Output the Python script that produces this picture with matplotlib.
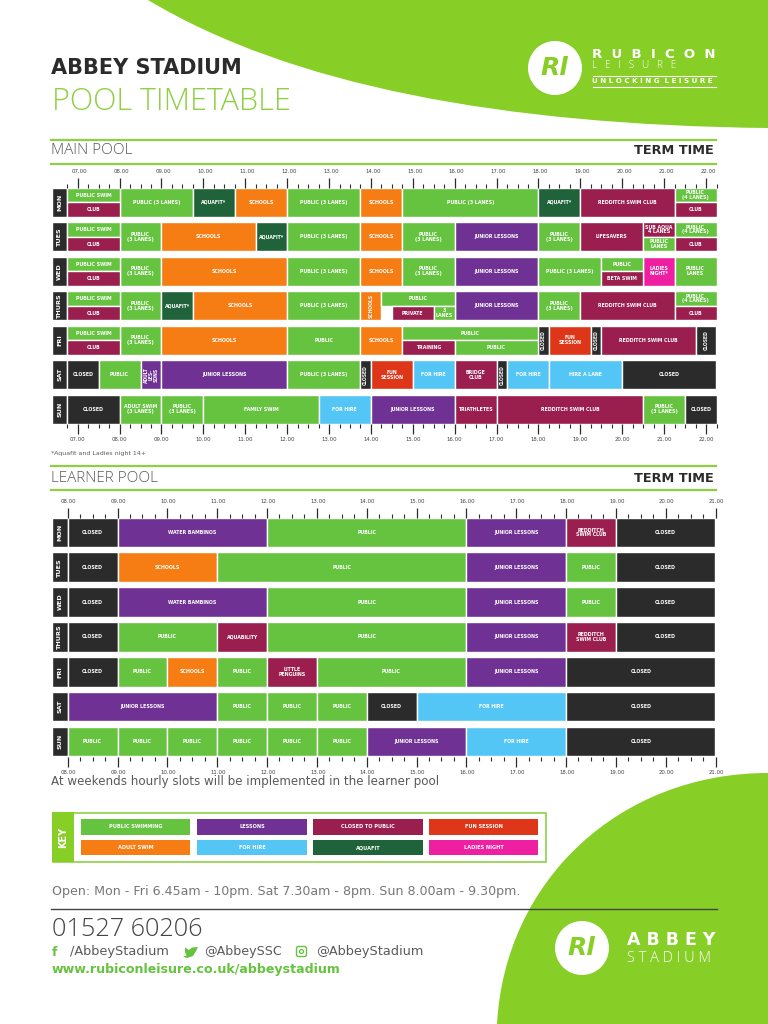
import matplotlib
matplotlib.use('Agg')
import matplotlib.pyplot as plt
from matplotlib.patches import Circle, PathPatch, Rectangle, FancyBboxPatch, Polygon
from matplotlib.path import Path
from matplotlib.ticker import FixedLocator
from matplotlib.transforms import ScaledTranslation

LIGHT = ['Open Sans', 'DejaVu Sans']
plt.rcParams['font.family'] = ['DejaVu Sans']

LIME = '#87CE26'
LINE = '#8FCF45'
DARK = '#2B2B2B'
GREY = '#5A5A5A'

colours = {
    'public': '#66C340',
    'schools': '#F57D14',
    'lessons': '#6F3193',
    'club': '#9A1F4E',
    'closed': '#2B2B2B',
    'aquafit': '#20633A',
    'hire': '#54C6F6',
    'fun': '#DE3618',
    'ladies': '#EE1FA0',
}

days = ['MON', 'TUES', 'WED', 'THURS', 'FRI', 'SAT', 'SUN']

main_hours = list(range(7, 23))
main_open, main_end = 6.75, 22.25

P3 = 'PUBLIC (3 LANES)'
P3W = 'PUBLIC\n(3 LANES)'
P4W = 'PUBLIC\n(4 LANES)'
RSC = 'REDDITCH SWIM CLUB'
JL = 'JUNIOR LESSONS'

main_mon = [(8, 9.75, P3, 'public'), (9.75, 10.75, 'AQUAFIT*', 'aquafit'), (10.75, 12, 'SCHOOLS', 'schools'),
            (12, 13.75, P3, 'public'), (13.75, 14.75, 'SCHOOLS', 'schools'), (14.75, 18, P3, 'public'),
            (18, 19, 'AQUAFIT*', 'aquafit'), (19, 21.25, RSC, 'club')]
main_tue = [(8, 9, P3W, 'public'), (9, 11.25, 'SCHOOLS', 'schools'), (11.25, 12, 'AQUAFIT*', 'aquafit'),
            (12, 13.75, P3, 'public'), (13.75, 14.75, 'SCHOOLS', 'schools'), (14.75, 16, P3W, 'public'),
            (16, 18, JL, 'lessons'), (18, 19, P3W, 'public'), (19, 20.5, 'LIFESAVERS', 'club')]
main_wed = [(8, 9, P3W, 'public'), (9, 12, 'SCHOOLS', 'schools'), (12, 13.75, P3, 'public'),
            (13.75, 14.75, 'SCHOOLS', 'schools'), (14.75, 16, P3W, 'public'), (16, 18, JL, 'lessons'),
            (18, 19.5, P3, 'public'), (20.5, 21.25, 'LADIES\nNIGHT*', 'ladies'), (21.25, 22.25, 'PUBLIC\nLANES', 'public')]
main_thu = [(8, 9, P3W, 'public'), (9, 9.75, 'AQUAFIT*', 'aquafit'), (9.75, 12, 'SCHOOLS', 'schools'),
            (12, 13.75, P3, 'public'), (13.75, 14.25, 'SCHOOLS', 'schools'), (16, 18, JL, 'lessons'),
            (18, 19, P3W, 'public'), (19, 21.25, RSC, 'club')]
main_fri = [(8, 9, P3W, 'public'), (9, 12, 'SCHOOLS', 'schools'), (12, 13.75, 'PUBLIC', 'public'),
            (13.75, 14.75, 'SCHOOLS', 'schools'), (18, 18.25, 'CLOSED', 'closed'), (18.25, 19.25, 'FUN\nSESSION', 'fun'),
            (19.25, 19.5, 'CLOSED', 'closed'), (19.5, 21.75, RSC, 'club'), (21.75, 22.25, 'CLOSED', 'closed')]
main_sat = [(6.75, 7.5, 'CLOSED', 'closed'), (7.5, 8.5, 'PUBLIC', 'public'), (8.5, 9, 'ADULT\nLES-\nSONS', 'lessons'),
            (9, 12, JL, 'lessons'), (12, 13.75, P3, 'public'), (13.75, 14, 'CLOSED', 'closed'),
            (14, 15, 'FUN\nSESSION', 'fun'), (15, 16, 'FOR HIRE', 'hire'), (16, 17, 'BRIDGE\nCLUB', 'club'),
            (17, 17.25, 'CLOSED', 'closed'), (17.25, 18.25, 'FOR HIRE', 'hire'), (18.25, 20, 'HIRE A LANE', 'hire'),
            (20, 22.25, 'CLOSED', 'closed')]
main_sun = [(6.75, 8, 'CLOSED', 'closed'), (8, 9, 'ADULT SWIM\n(3 LANES)', 'public'), (9, 10, P3W, 'public'),
            (10, 12.75, 'FAMILY SWIM', 'public'), (12.75, 14, 'FOR HIRE', 'hire'), (14, 16, JL, 'lessons'),
            (16, 17, 'TRIATHLETES', 'club'), (17, 20.5, RSC, 'club'), (20.5, 21.5, P3W, 'public'),
            (21.5, 22.25, 'CLOSED', 'closed')]

# sessions sharing a row with another one, upper and lower lane
early_top = (6.75, 8, 'PUBLIC SWIM', 'public')
early_bot = (6.75, 8, 'CLUB', 'club')
late_top = (21.25, 22.25, P4W, 'public')
late_bot = (21.25, 22.25, 'CLUB', 'club')

main_top = [
    [early_top, late_top],
    [early_top, (20.5, 21.25, 'SUB AQUA\n4 LANES', 'club'), late_top],
    [early_top, (19.5, 20.5, 'PUBLIC', 'public')],
    [early_top, (14.25, 16, 'PUBLIC', 'public'), late_top],
    [early_top, (14.75, 18, 'PUBLIC', 'public')],
    [],
    [],
]
main_bot = [
    [early_bot, late_bot],
    [early_bot, (20.5, 21.25, 'PUBLIC\nLANES', 'public'), late_bot],
    [early_bot, (19.5, 20.5, 'BETA SWIM', 'club')],
    [early_bot, (14.5, 15.5, 'PRIVATE', 'club'), (15.5, 16, '3\nLANES', 'public'), late_bot],
    [early_bot, (14.75, 16, 'TRAINING', 'club'), (16, 18, 'PUBLIC', 'public')],
    [],
    [],
]
main_full = [main_mon, main_tue, main_wed, main_thu, main_fri, main_sat, main_sun]

learner_hours = list(range(8, 22))
learner_open, learner_end = 8, 21

learner_mon = [(8, 9, 'CLOSED', 'closed'), (9, 12, 'WATER BAMBINOS', 'lessons'), (12, 16, 'PUBLIC', 'public'),
               (16, 18, JL, 'lessons'), (18, 19, 'REDDITCH\nSWIM CLUB', 'club'), (19, 21, 'CLOSED', 'closed')]
learner_tue = [(8, 9, 'CLOSED', 'closed'), (9, 11, 'SCHOOLS', 'schools'), (11, 16, 'PUBLIC', 'public'),
               (16, 18, JL, 'lessons'), (18, 19, 'PUBLIC', 'public'), (19, 21, 'CLOSED', 'closed')]
learner_wed = [(8, 9, 'CLOSED', 'closed'), (9, 12, 'WATER BAMBINOS', 'lessons'), (12, 16, 'PUBLIC', 'public'),
               (16, 18, JL, 'lessons'), (18, 19, 'PUBLIC', 'public'), (19, 21, 'CLOSED', 'closed')]
learner_thu = [(8, 9, 'CLOSED', 'closed'), (9, 11, 'PUBLIC', 'public'), (11, 12, 'AQUABILITY', 'club'),
               (12, 16, 'PUBLIC', 'public'), (16, 18, JL, 'lessons'), (18, 19, 'REDDITCH\nSWIM CLUB', 'club'),
               (19, 21, 'CLOSED', 'closed')]
learner_fri = [(8, 9, 'CLOSED', 'closed'), (9, 10, 'PUBLIC', 'public'), (10, 11, 'SCHOOLS', 'schools'),
               (11, 12, 'PUBLIC', 'public'), (12, 13, 'LITTLE\nPENGUINS', 'club'), (13, 16, 'PUBLIC', 'public'),
               (16, 18, JL, 'lessons'), (18, 21, 'CLOSED', 'closed')]
learner_sat = [(8, 11, JL, 'lessons'), (11, 12, 'PUBLIC', 'public'), (12, 13, 'PUBLIC', 'public'),
               (13, 14, 'PUBLIC', 'public'), (14, 15, 'CLOSED', 'closed'), (15, 18, 'FOR HIRE', 'hire'),
               (18, 21, 'CLOSED', 'closed')]
learner_sun = [(8, 9, 'PUBLIC', 'public'), (9, 10, 'PUBLIC', 'public'), (10, 11, 'PUBLIC', 'public'),
               (11, 12, 'PUBLIC', 'public'), (12, 13, 'PUBLIC', 'public'), (13, 14, 'PUBLIC', 'public'),
               (14, 16, JL, 'lessons'), (16, 18, 'FOR HIRE', 'hire'), (18, 21, 'CLOSED', 'closed')]
learner_full = [learner_mon, learner_tue, learner_wed, learner_thu, learner_fri, learner_sat, learner_sun]

key_labels = ['PUBLIC SWIMMING', 'LESSONS', 'CLOSED TO PUBLIC', 'FUN SESSION',
              'ADULT SWIM', 'FOR HIRE', 'AQUAFIT', 'LADIES NIGHT']
key_kinds = ['public', 'lessons', 'club', 'fun', 'schools', 'hire', 'aquafit', 'ladies']

W, H = 768, 1024
fig = plt.figure(figsize=(W / 100, H / 100), dpi=100, facecolor='white')


def box(l, t, r, b):
    return [l / W, 1 - b / H, (r - l) / W, (b - t) / H]


page = fig.add_axes([0, 0, 1, 1])
page.set_xlim(0, W)
page.set_ylim(H, 0)
page.axis('off')


def say(x, y, s, size, color=DARK, weight='normal', ha='left', family='DejaVu Sans', **kw):
    return page.text(x, y, s, fontsize=size, color=color, fontweight=weight, ha=ha, va='center',
                     family=family, **kw)


# green background shapes
swoosh = Path([(148, 0), (290, 85), (500, 125), (768, 128), (768, 0), (148, 0)],
              [Path.MOVETO, Path.CURVE4, Path.CURVE4, Path.CURVE4, Path.LINETO, Path.CLOSEPOLY])
page.add_patch(PathPatch(swoosh, fc=LIME, ec='none'))
corner = Path([(497, 1024), (505, 880), (620, 773), (768, 773), (768, 1024), (497, 1024)],
              [Path.MOVETO, Path.CURVE4, Path.CURVE4, Path.CURVE4, Path.LINETO, Path.CLOSEPOLY])
page.add_patch(PathPatch(corner, fc=LIME, ec='none'))


def roundel(x, y):
    page.add_patch(Circle((x, y), 27, fc='white', ec='none'))
    page.text(x - 1, y, 'Rl', fontsize=18, color=LIME, fontweight='bold', style='italic',
              ha='center', va='center', family='DejaVu Sans')


# header
say(51, 68, 'ABBEY STADIUM', 15, DARK, 'bold')
say(52, 102, 'POOL TIMETABLE', 22, LINE, 'light', family=LIGHT)
roundel(555, 68)
say(592, 54, 'R  U  B  I  C  O  N', 9.5, 'white', 'bold')
say(592, 66, 'L   E   I   S   U   R   E', 7.2, 'white', 'light', family=LIGHT)
say(592, 81, 'U N L O C K I N G  L E I S U R E', 5.1, 'white', 'bold')
page.plot([593, 716], [76, 76], color='white', lw=0.8)
page.plot([593, 716], [86.5, 86.5], color='white', lw=0.8)

# section headings
page.plot([51, 716], [140, 140], color=LINE, lw=1.6)
page.plot([51, 716], [164, 164], color=LINE, lw=1.6)
say(51, 150, 'MAIN POOL', 11, GREY, 'light', family=LIGHT)
say(714, 151, 'TERM TIME', 9.3, DARK, 'bold', ha='right')
say(51, 454, '*Aquafit and Ladies night 14+', 4.5, GREY)
page.plot([51, 716], [466, 466], color=LINE, lw=1.6)
page.plot([51, 716], [490, 490], color=LINE, lw=1.6)
say(51, 478, 'LEARNER POOL', 11, GREY, 'light', family=LIGHT)
say(714, 478, 'TERM TIME', 9.3, DARK, 'bold', ha='right')
say(51, 781, 'At weekends hourly slots will be implemented in the learner pool', 8.55, GREY)


def draw_sessions(ax, row, sessions, mid, height, size):
    for start, end, label, kind in sessions:
        ax.barh(row + mid, end - start, height=height, left=start, color=colours[kind],
                edgecolor='white', linewidth=1.0)
        rot = 90 if height > 0.6 and end - start <= 0.5 else 0
        ax.text((start + end) / 2, row + mid, label, color='white', fontsize=size if rot == 0 else size - 0.2,
                fontweight='bold', ha='center', va='center', rotation=rot, linespacing=0.95)


def timetable(rect, xlim, ylim, hours, first, last, full, top=None, bot=None, top_shift=0, bot_shift=0):
    ax = fig.add_axes(box(*rect))
    ax.set_xlim(*xlim)
    ax.set_ylim(*ylim)
    ax.patch.set_alpha(0)
    for s in ax.spines.values():
        s.set_visible(False)
    ax.set_yticks([])

    for row, day in enumerate(days):
        ax.barh(row, first - xlim[0], height=0.85, left=xlim[0], color=DARK, edgecolor='white', linewidth=1.0)
        ax.text((xlim[0] + first) / 2, row, day, color='white', fontsize=4.6, fontweight='bold',
                rotation=90, ha='center', va='center')
        draw_sessions(ax, row, full[row], 0, 0.85, 3.45)
        if top:
            draw_sessions(ax, row, top[row], -0.21, 0.43, 3.45)
            draw_sessions(ax, row, bot[row], 0.21, 0.43, 3.45)

    quarters = [first + 0.25 * i for i in range(int((last - first) * 4) + 1)]
    ax.xaxis.set_major_locator(FixedLocator(hours))
    ax.xaxis.set_minor_locator(FixedLocator([q for q in quarters if q not in hours]))
    ax.set_xticklabels(['%02d.00' % h for h in hours])
    ax.tick_params(axis='x', which='major', top=True, bottom=True, labeltop=True, labelbottom=True,
                   length=7.2, width=0.9, color=DARK, labelsize=3.9, labelcolor='#444444', pad=2.4)
    ax.tick_params(axis='x', which='minor', top=True, bottom=True, length=3.2, width=0.8, color=DARK)
    for tick in ax.xaxis.get_major_ticks():
        tick.label2.set_transform(tick.label2.get_transform() + ScaledTranslation(top_shift / 100, 0, fig.dpi_scale_trans))
        tick.label1.set_transform(tick.label1.get_transform() + ScaledTranslation(bot_shift / 100, 0, fig.dpi_scale_trans))
    return ax


timetable((52, 187.5, 716.5, 424), (6.386, 22.25), (6.426, -0.429), main_hours, main_open, main_end,
          main_full, main_top, main_bot, top_shift=2)
timetable((52, 517.5, 715.5, 757), (7.685, 21.0), (6.45, -0.43), learner_hours, learner_open, learner_end,
          learner_full, top_shift=1, bot_shift=1)

# key
page.add_patch(Rectangle((52.5, 812.5), 493, 49.5, fc='white', ec=LINE, lw=1.2))
page.add_patch(Rectangle((52, 812), 22, 50, fc=LIME, ec='none'))
say(63, 837, 'KEY', 7, 'white', 'bold', ha='center', rotation=90)
key_x = [(81, 190), (197, 307), (313, 423), (429, 538)]
key_y = [(819, 835), (840, 855)]
for i, (label, kind) in enumerate(zip(key_labels, key_kinds)):
    x0, x1 = key_x[i % 4]
    y0, y1 = key_y[i // 4]
    page.add_patch(Rectangle((x0, y0), x1 - x0, y1 - y0, fc=colours[kind], ec='none'))
    say((x0 + x1) / 2, (y0 + y1) / 2, label, 3.6, 'white', 'bold', ha='center')

# footer
say(52, 892, 'Open: Mon - Fri 6.45am - 10pm. Sat 7.30am - 8pm. Sun 8.00am - 9.30pm.', 9.1, '#777777')
page.plot([51, 717], [909, 909], color='#444444', lw=1.0)
say(52, 930, '01527 60206', 18.2, '#444444', 'light', family=LIGHT)
say(52, 952, 'f', 9, '#66C340', 'bold')
say(70, 952, '/AbbeyStadium', 9.3, GREY)
page.add_patch(Polygon([(185, 947.5), (189, 950), (192, 947.5), (198, 947), (196, 951), (193, 956), (187, 958), (183, 956.5),
                        (186.5, 955.5), (185, 952)], fc='#66C340', ec='none'))
say(204, 952, '@AbbeySSC', 9.1, GREY)
page.add_patch(FancyBboxPatch((298, 948), 7, 7, boxstyle='round,pad=1.5,rounding_size=2', fc='none', ec='#66C340', lw=1))
page.add_patch(Circle((301.5, 951.5), 2, fc='none', ec='#66C340', lw=0.9))
say(316, 952, '@AbbeyStadium', 9.3, GREY)
say(52, 970, 'www.rubiconleisure.co.uk/abbeystadium', 9.05, '#66C340', 'bold')
roundel(582, 948)
say(627, 940, 'A B B E Y', 12.5, 'white', 'bold')
say(627, 959, 'S T A D I U M', 10.5, 'white', 'light', family=LIGHT)

fig.savefig('out.png', dpi=100)
